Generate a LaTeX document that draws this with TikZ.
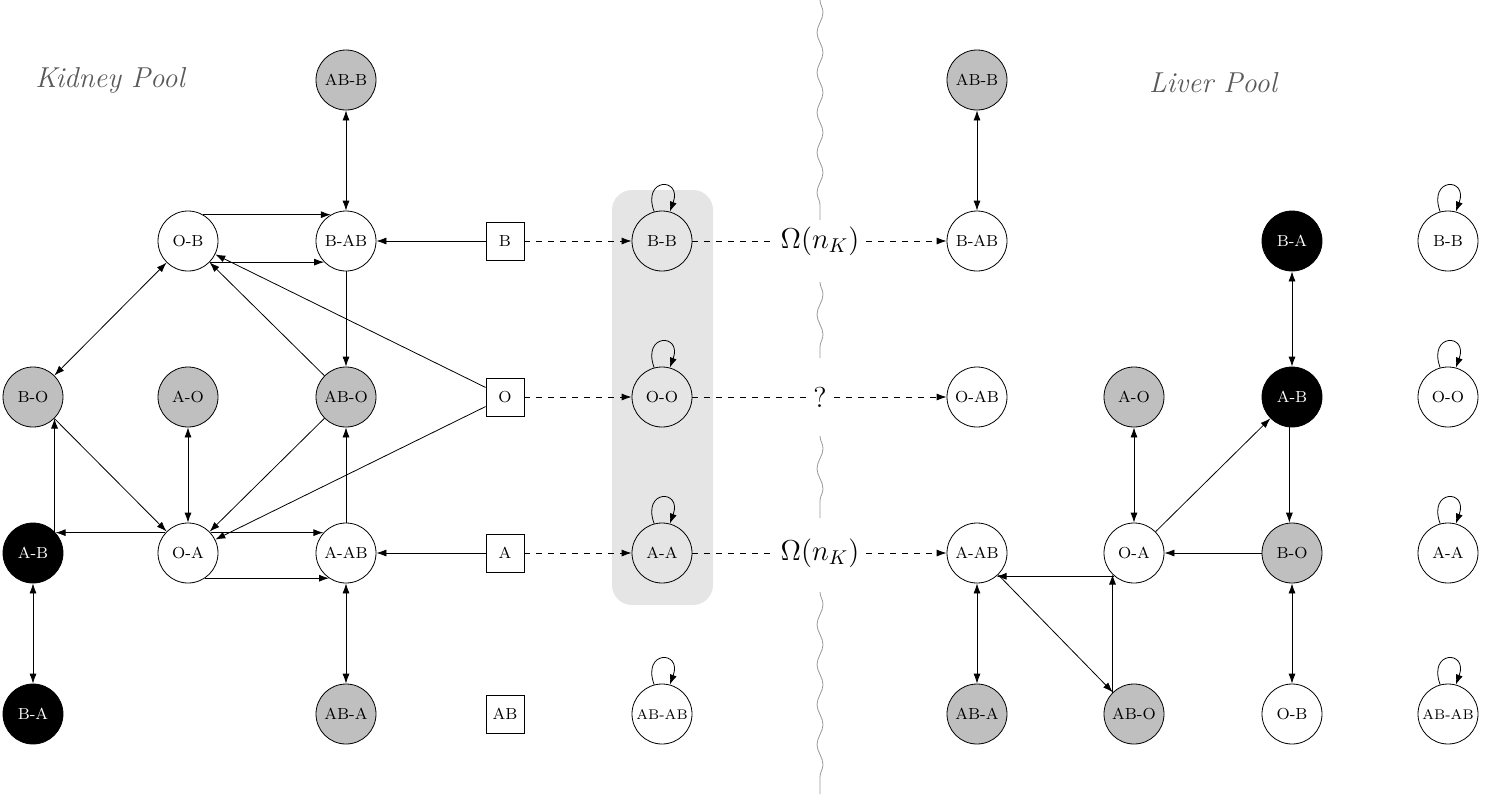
\documentclass[tikz,border=0pt]{standalone}
\usepackage{amsmath, amssymb}
\usepackage{tikz}
\usetikzlibrary{calc,arrows.meta,decorations.pathmorphing}
\usepackage{xcolor}

\begin{document}
\begin{tikzpicture}[
  x=0.5pt,y=-0.5pt,
  >={Latex[length=5pt,width=3.5pt]},
  pair/.style={circle,draw,minimum size=30pt,inner sep=0pt,font=\footnotesize},
  grey/.style={pair,fill=black!25},
  dark/.style={pair,fill=black,text=white},
  small/.style={pair,font=\scriptsize},
  blood/.style={draw,minimum size=19pt,inner sep=0pt,font=\footnotesize},
  self/.style={->,looseness=6,out=110,in=70},
  wave/.style={draw=black!40,decorate,decoration={snake,segment length=20pt,amplitude=1.5pt}}
  ]
\useasboundingbox (0,0) rectangle (1485,794);
\fill[black!10,rounded corners=10pt] (612,190) rectangle (713,605);   % compatible pairs
\def\wx{820}
% kidney pool
\node[font=\Large\itshape,text=black!65] at (110,80) {Kidney Pool};
\node[grey] (kABB) at (346,80) {AB-B};
\node[pair] (kOB) at (188,241) {O-B};
\node[pair] (kBAB) at (346,241) {B-AB};
\node[grey] (kBO) at (33,397) {B-O};
\node[grey] (kAO) at (188,397) {A-O};
\node[grey] (kABO) at (346,397) {AB-O};
\node[dark] (kAB) at (33,553) {A-B};
\node[pair] (kOA) at (188,553) {O-A};
\node[pair] (kAAB) at (346,553) {A-AB};
\node[dark] (kBA) at (33,714) {B-A};
\node[grey] (kABA) at (346,714) {AB-A};
\node[blood] (sB) at (505,241) {B};
\node[blood] (sO) at (505,397) {O};
\node[blood] (sA) at (505,553) {A};
\node[blood] (sAB) at (505,714) {AB};
\node[pair] (cBB) at (662,241) {B-B};
\node[pair] (cOO) at (662,397) {O-O};
\node[pair] (cAA) at (662,553) {A-A};
\node[small] (cABAB) at (662,714) {AB-AB};
% liver pool
\node[font=\Large\itshape,text=black!65] at (1213,83) {Liver Pool};
\node[grey] (lABB) at (977,80) {AB-B};
\node[pair] (lBAB) at (977,241) {B-AB};
\node[pair] (lOAB) at (977,397) {O-AB};
\node[pair] (lAAB) at (977,553) {A-AB};
\node[grey] (lABA) at (977,714) {AB-A};
\node[grey] (lAO) at (1134,397) {A-O};
\node[pair] (lOA) at (1134,553) {O-A};
\node[grey] (lABO) at (1134,714) {AB-O};
\node[dark] (lBA) at (1292,241) {B-A};
\node[dark] (lAB) at (1292,397) {A-B};
\node[grey] (lBO) at (1292,553) {B-O};
\node[pair] (lOB) at (1292,714) {O-B};
\node[pair] (lBB) at (1448,241) {B-B};
\node[pair] (lOO) at (1448,397) {O-O};
\node[pair] (lAA) at (1448,553) {A-A};
\node[small] (lABAB) at (1448,714) {AB-AB};
% separator and transfer labels
\path[wave] (\wx,0) -- (\wx,222);
\path[wave] (\wx,282) -- (\wx,358);
\path[wave] (\wx,436) -- (\wx,518);
\path[wave] (\wx,592) -- (\wx,794);
\node[fill=white,font=\Large] (tB) at (\wx,241) {$\Omega(n_K)$};
\node[fill=white,font=\Large] (tO) at (\wx,397) {?};
\node[fill=white,font=\Large] (tA) at (\wx,553) {$\Omega(n_K)$};
% kidney edges
\draw[<->] (kABB) -- (kBAB);
\draw[->] (kOB.60) -- (kBAB.120);
\draw[->] (kOB.-44) -- (kBAB.-136);
\draw[->] (sB) -- (kBAB);
\draw[->] (sO) -- (kOB);
\draw[->] (kBAB) -- (kABO);
\draw[->] (kABO) -- (kOB);
\draw[<->] (kOB) -- (kBO);
\draw[->] (kBO) -- (kOA);
\draw[->] (kAB.45) -- (kBO.-45);
\draw[->] (kOA.138) -- (kAB.42);
\draw[<->] (kAO) -- (kOA);
\draw[->] (kABO) -- (kOA);
\draw[->] (kOA.42) -- (kAAB.138);
\draw[->] (kOA.-56) -- (kAAB.-124);
\draw[->] (kAAB) -- (kABO);
\draw[->] (sO) -- (kOA);
\draw[->] (sA) -- (kAAB);
\draw[<->] (kAB) -- (kBA);
\draw[<->] (kAAB) -- (kABA);
\draw[->,dashed] (sB) -- (cBB);
\draw[->,dashed] (sO) -- (cOO);
\draw[->,dashed] (sA) -- (cAA);
\draw[dashed] (cBB) -- (tB); \draw[->,dashed] (tB) -- (lBAB);
\draw[dashed] (cOO) -- (tO); \draw[->,dashed] (tO) -- (lOAB);
\draw[dashed] (cAA) -- (tA); \draw[->,dashed] (tA) -- (lAAB);
\foreach \n in {cBB,cOO,cAA,cABAB,lBB,lOO,lAA,lABAB}
  \draw[self] (\n.105) to (\n.75);
% liver edges
\draw[<->] (lABB) -- (lBAB);
\draw[<->] (lBA) -- (lAB);
\draw[->] (lOA) -- (lAB);
\draw[->] (lAB.-95) -- (lBO.95);
\draw[->] (lBO) -- (lOA);
\draw[<->] (lAO) -- (lOA);
\draw[<->] (lBO) -- (lOB);
\draw[<->] (lAAB) -- (lABA);
\draw[->] (lAAB) -- (lABO);
\draw[->] (lABO.135) -- (lOA.225);
\draw[->] (lOA.230) -- (lAAB.-50);
\end{tikzpicture}
\end{document}
